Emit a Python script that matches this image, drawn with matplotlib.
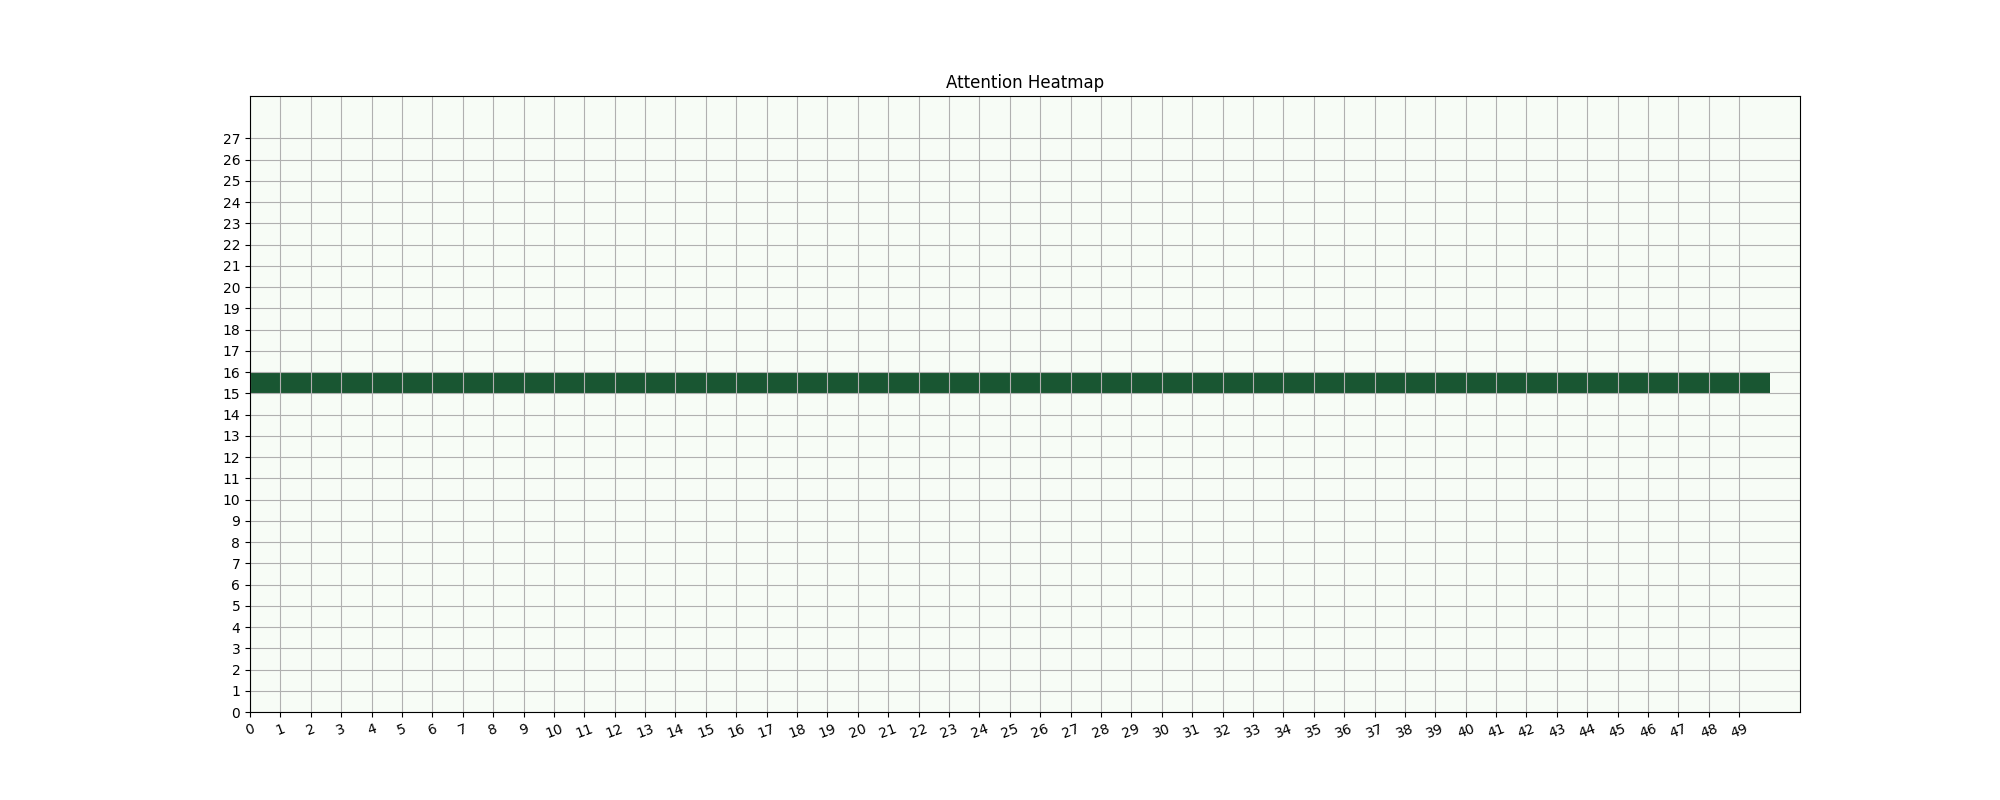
import matplotlib
matplotlib.use("Agg")
import matplotlib.pyplot as plt
import numpy as np

# ── Data ──────────────────────────────────────────────────────────────────────
N_ROWS = 29                      # cells along y (0..29)
N_COLS = 51                      # cells along x (0..51)
ATTENDED_ROW = 15                # the only row carrying attention
ATTENDED_COLS = list(range(50))  # columns 0..49 are fully attended
ATTENTION_VALUE = 1.0

X_TICKS = list(range(50))
Y_TICKS = list(range(28))

weights = np.zeros((N_ROWS, N_COLS))
weights[ATTENDED_ROW, ATTENDED_COLS] = ATTENTION_VALUE

# ── Plot ──────────────────────────────────────────────────────────────────────
fig, ax = plt.subplots(figsize=(20, 8), dpi=100)

ax.pcolormesh(
    np.arange(N_COLS + 1),
    np.arange(N_ROWS + 1),
    weights,
    cmap="Greens",
    vmin=0,
    vmax=1,
    alpha=0.9,
)

ax.set_xlim(0, N_COLS)
ax.set_ylim(0, N_ROWS)
ax.set_xticks(X_TICKS)
ax.set_yticks(Y_TICKS)
plt.setp(ax.get_xticklabels(), rotation=20)
ax.grid(True)
ax.set_title("Attention Heatmap")

fig.savefig("out.png", dpi=100)
plt.close(fig)
